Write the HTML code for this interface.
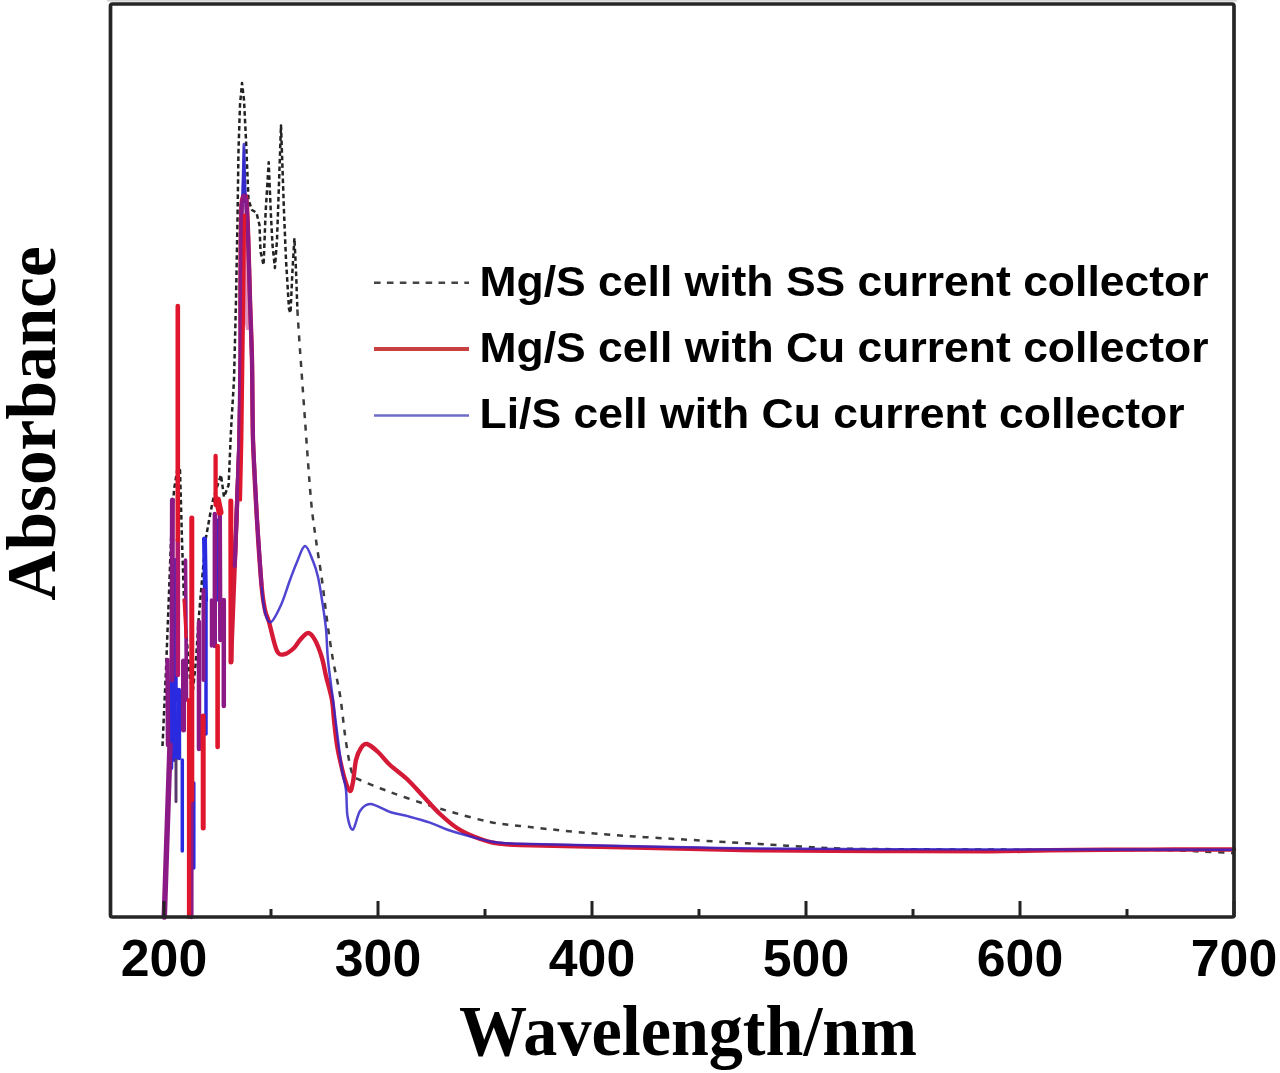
<!DOCTYPE html>
<html><head><meta charset="utf-8"><title>Absorbance vs Wavelength</title>
<style>
html,body{margin:0;padding:0;background:#fff;width:1280px;height:1073px;overflow:hidden}
svg{display:block}
</style></head>
<body>
<svg width="1280" height="1073" viewBox="0 0 1280 1073">
<rect width="1280" height="1073" fill="#fff"/>
<rect x="107" y="0" width="1130" height="1.6" fill="#d4d4d4"/>
<g fill="none" stroke-linejoin="round" stroke-linecap="round">
<path d="M297.4,310 C297.8,316.7 298.7,331.7 300,350 C301.3,368.3 303.2,395.0 305,420 C306.8,445.0 309.2,480.0 311,500 C312.8,520.0 314.2,526.7 316,540 C317.8,553.3 320.2,566.7 322,580 C323.8,593.3 325.2,606.7 327,620 C328.8,633.3 330.8,647.5 333,660 C335.2,672.5 338.0,682.5 340,695 C342.0,707.5 343.5,724.2 345,735 C346.5,745.8 347.7,753.3 349,760 C350.3,766.7 351.2,771.7 353,775 C354.8,778.3 353.8,777.2 360,780 C366.2,782.8 379.2,788.0 390,792 C400.8,796.0 414.2,800.5 425,804 C435.8,807.5 444.2,810.0 455,813 C465.8,816.0 479.2,819.8 490,822 C500.8,824.2 501.7,824.0 520,826 C538.3,828.0 570.0,831.6 600,834 C630.0,836.4 673.3,838.8 700,840.5 C726.7,842.2 743.3,843.0 760,844 C776.7,845.0 786.7,845.8 800,846.5 C813.3,847.2 823.3,848.0 840,848.5 C856.7,849.0 873.3,849.0 900,849.2 C926.7,849.4 966.7,849.5 1000,849.6 C1033.3,849.7 1071.7,849.7 1100,849.8 C1128.3,849.9 1153.3,849.9 1170,850.2 C1186.7,850.5 1189.3,851.0 1200,851.5 C1210.7,852.0 1228.3,852.8 1234,853" stroke="#3c3c3c" stroke-width="2.5" stroke-dasharray="6 6.8" stroke-linecap="butt"/>
<polyline points="162.5,746 166,670 169,593 171,540 174,490 177.5,468 180,470 182,540 184,600 186.7,638 190,680 193,690 196,660 198.5,621 202,580 205.7,539 210,515 213,500 217,487 221,475 224,497 228.6,485 231,430 234,380 236,300 237.5,220 238.5,150 240,105 242,83 244,100 246,140 248.5,200 252,210 256.4,212.6 259.5,225 260.5,251.5 263.6,265 265.6,212.6 268.7,162.3 270.8,212.6 272.5,245 274.9,268 277,240 278,212 281,125.4 284,212 286,260 289,309 290.5,313 292.5,270 294.4,238.2 296,270 297.4,310" stroke="#222" stroke-width="2.5" stroke-dasharray="4.6 3" stroke-linecap="butt"/>
<polygon points="241,205 247,205 249.5,290 250.5,330 246,330 241,300" fill="#d878b0" opacity="0.8"/>
<polyline points="171.5,680 171,768" stroke="#2a2ae0" stroke-width="4.5"/><polyline points="178.8,690 179,758" stroke="#2a2ae0" stroke-width="4.5"/><polyline points="204.5,539 205.5,600" stroke="#2a2ae0" stroke-width="5.0"/><polyline points="206,600 206,734" stroke="#2a2ae0" stroke-width="3.5"/><polyline points="182.3,760 182.3,851" stroke="#2a2ae0" stroke-width="3.5"/><polyline points="193.8,783 193.8,868" stroke="#2a2ae0" stroke-width="3.5"/><polyline points="175.2,560 175.8,700" stroke="#2a2ae0" stroke-width="4.0"/><polyline points="217.3,520 217.3,600" stroke="#2a2ae0" stroke-width="3.0"/><polyline points="174.5,680 175,760" stroke="#2a2ae0" stroke-width="4.5"/><polyline points="176,760 176,801.5" stroke="#5a3a6a" stroke-width="3.0"/><polyline points="172.4,500 172,680" stroke="#8c1a86" stroke-width="5.0"/><polyline points="185.5,560 186.5,700" stroke="#8c1a86" stroke-width="3.6"/><polyline points="183.5,661 183.5,730" stroke="#8c1a86" stroke-width="5.0"/><polyline points="199,622 199,749" stroke="#8c1a86" stroke-width="4.5"/><polyline points="203.5,590 203.5,680" stroke="#8c1a86" stroke-width="4.0"/><polyline points="214.8,514 214.8,646" stroke="#8c1a86" stroke-width="4.4"/><polyline points="219.8,514 220.3,640" stroke="#8c1a86" stroke-width="4.4"/><polyline points="211.5,600 211.5,646" stroke="#8c1a86" stroke-width="3.5"/><polyline points="223.8,600 223.8,706" stroke="#8c1a86" stroke-width="4.5"/><polyline points="240.8,360 239.5,440 237,505 234.7,566" stroke="#8c1a86" stroke-width="4.2"/><polyline points="170,745 166.5,850 164.3,917" stroke="#8c1a86" stroke-width="5.5"/><polyline points="167.5,660 168,745" stroke="#8c1a86" stroke-width="4.5"/><polyline points="191.5,760 191.3,917" stroke="#8c1a86" stroke-width="4.5"/><polyline points="177.8,540 177.8,675" stroke="#b8186a" stroke-width="4.6"/><polyline points="189,700 189,917" stroke="#e0162c" stroke-width="4.2"/><polyline points="177.8,306 177.8,540" stroke="#e0162c" stroke-width="4.6"/><polyline points="191.8,518 191.8,800" stroke="#e0162c" stroke-width="5.0"/><polyline points="215.6,456 215.6,505" stroke="#e0162c" stroke-width="4.3"/><polyline points="217.5,500 220,512" stroke="#e0162c" stroke-width="7.0"/><polyline points="230.8,501 231,662" stroke="#e0162c" stroke-width="5.0"/><polyline points="217.6,646 217.6,747" stroke="#e0162c" stroke-width="4.6"/><polyline points="203.2,716 203.2,828" stroke="#e0162c" stroke-width="5.0"/><polyline points="184,600 186,637" stroke="#e0162c" stroke-width="3.0"/>
<polygon points="241,203 243.1,147 244.4,147 247,203" fill="#4038d8" opacity="0.9"/>
<path d="M231,662 C231.6,646.0 233.7,592.2 234.7,566 C235.7,539.8 236.2,526.0 237,505 C237.8,484.0 238.9,464.2 239.5,440 C240.1,415.8 240.6,383.3 240.8,360 C241.0,336.7 240.5,320.0 240.5,300 C240.5,280.0 240.6,255.8 240.8,240 C241.0,224.2 241.1,212.3 241.5,205 C241.9,197.7 242.7,196.8 243.5,196 C244.3,195.2 245.7,192.7 246.5,200 C247.3,207.3 247.7,223.3 248.3,240 C248.9,256.7 249.4,280.0 250,300 C250.6,320.0 251.5,336.7 252,360 C252.5,383.3 252.2,413.3 253,440 C253.8,466.7 255.6,495.8 257,520 C258.4,544.2 260.2,570.0 261.5,585 C262.8,600.0 263.8,603.8 265,610 C266.2,616.2 267.0,615.2 269,622 C271.0,628.8 274.3,645.7 277,651 C279.7,656.3 282.2,654.5 285,654 C287.8,653.5 291.5,650.3 294,648 C296.5,645.7 297.7,642.5 300,640 C302.3,637.5 305.5,633.0 308,633 C310.5,633.0 312.7,635.8 315,640 C317.3,644.2 320.2,652.0 322,658 C323.8,664.0 324.3,669.0 326,676 C327.7,683.0 330.7,692.7 332,700 C333.3,707.3 333.2,712.5 334,720 C334.8,727.5 336.0,738.3 337,745 C338.0,751.7 338.7,754.2 340,760 C341.3,765.8 343.3,774.8 345,780 C346.7,785.2 348.7,790.7 350,791 C351.3,791.3 352.0,787.2 353,782 C354.0,776.8 354.7,765.7 356,760 C357.3,754.3 359.2,750.7 361,748 C362.8,745.3 364.2,743.3 367,744 C369.8,744.7 374.2,748.5 378,752 C381.8,755.5 385.2,760.5 390,765 C394.8,769.5 401.5,773.8 407,779 C412.5,784.2 417.5,790.2 423,796 C428.5,801.8 434.3,808.7 440,814 C445.7,819.3 451.2,824.2 457,828 C462.8,831.8 468.7,834.5 475,837 C481.3,839.5 487.5,841.7 495,843 C502.5,844.3 502.5,844.4 520,845 C537.5,845.6 570.0,846.1 600,846.8 C630.0,847.5 673.3,848.4 700,849 C726.7,849.6 730.0,850.0 760,850.3 C790.0,850.6 841.7,850.8 880,851 C918.3,851.2 961.7,851.4 990,851.3 C1018.3,851.2 1023.3,850.5 1050,850.2 C1076.7,849.9 1119.3,849.7 1150,849.6 C1180.7,849.5 1220.0,849.5 1234,849.5" stroke="#d41a36" stroke-width="4.4"/>
<path d="M234.7,566 C235.1,555.8 236.2,526.0 237,505 C237.8,484.0 238.9,464.2 239.5,440 C240.1,415.8 240.4,383.3 240.5,360 C240.6,336.7 240.2,320.0 240.3,300 C240.4,280.0 240.6,256.7 241,240 C241.4,223.3 242.1,215.7 242.5,200 C242.9,184.3 243.4,152.7 243.7,146 C244.0,139.3 244.2,151.0 244.5,160 C244.8,169.0 244.9,185.8 245.5,200 C246.1,214.2 247.2,228.3 248,245 C248.8,261.7 249.3,280.8 250,300 C250.7,319.2 251.5,336.7 252,360 C252.5,383.3 252.2,413.3 253,440 C253.8,466.7 255.6,495.8 257,520 C258.4,544.2 260.2,569.7 261.5,585 C262.8,600.3 263.4,605.8 265,612 C266.6,618.2 268.3,623.2 271,622 C273.7,620.8 277.8,612.0 281,605 C284.2,598.0 287.3,587.2 290,580 C292.7,572.8 294.5,567.7 297,562 C299.5,556.3 302.3,546.2 305,546 C307.7,545.8 310.8,555.8 313,561 C315.2,566.2 316.5,570.5 318,577 C319.5,583.5 320.7,591.3 322,600 C323.3,608.7 325.0,619.0 326,629 C327.0,639.0 326.8,648.2 328,660 C329.2,671.8 331.3,686.7 333,700 C334.7,713.3 336.5,728.3 338,740 C339.5,751.7 340.7,761.7 342,770 C343.3,778.3 345.1,782.3 346,790 C346.9,797.7 346.4,809.4 347.5,816 C348.6,822.6 350.7,830.5 352.8,829.7 C354.9,828.9 357.1,815.3 360,811 C362.9,806.7 365.5,803.8 370.5,804 C375.5,804.2 383.6,809.9 390,812 C396.4,814.1 401.9,814.6 408.6,816.4 C415.3,818.2 423.5,820.4 430,822.6 C436.5,824.8 441.0,827.5 447.5,829.7 C454.0,831.9 461.1,834.0 468.8,836 C476.5,838.0 485.1,840.7 493.6,842 C502.1,843.3 502.3,843.2 520,843.8 C537.7,844.4 570.0,845.0 600,845.6 C630.0,846.2 673.3,847.1 700,847.6 C726.7,848.1 730.0,848.3 760,848.6 C790.0,848.9 840.0,849.1 880,849.2 C920.0,849.3 941.0,849.3 1000,849.4 C1059.0,849.5 1195.0,849.7 1234,849.8" stroke="#3024c8" stroke-width="2.5" opacity="0.85"/>
<polyline points="234.7,566 237,505 239.3,440 240.3,360 240.5,300 240.8,240 241.5,205 243.5,196" stroke="#8c1a86" stroke-width="4.0"/><polyline points="243.5,196 246.5,200 248.3,240 250,300 252,360 253,440 257,520 261.5,585" stroke="#8c1a86" stroke-width="4.0"/><polyline points="244.5,215 243.8,290 242.6,380 241.8,440 240.5,500" stroke="#e0162c" stroke-width="3.2"/>
</g>
<g stroke="#222" stroke-width="3" fill="none"><line x1="164" y1="917" x2="164" y2="901"/><line x1="378" y1="917" x2="378" y2="901"/><line x1="592" y1="917" x2="592" y2="901"/><line x1="806" y1="917" x2="806" y2="901"/><line x1="1020" y1="917" x2="1020" y2="901"/><line x1="1234" y1="917" x2="1234" y2="901"/><line x1="271" y1="917" x2="271" y2="909"/><line x1="485" y1="917" x2="485" y2="909"/><line x1="699" y1="917" x2="699" y2="909"/><line x1="913" y1="917" x2="913" y2="909"/><line x1="1127" y1="917" x2="1127" y2="909"/></g>
<rect x="110.5" y="4" width="1123.5" height="913" rx="2" fill="none" stroke="#262626" stroke-width="3.7"/>
<g font-family="'Liberation Sans', Arial, sans-serif" font-weight="bold" font-size="51.8" text-anchor="middle" fill="#000"><text x="164" y="976">200</text><text x="378" y="976">300</text><text x="592" y="976">400</text><text x="806" y="976">500</text><text x="1020" y="976">600</text><text x="1234" y="976">700</text></g>
<text x="459" y="1054.8" font-family="'Liberation Serif', 'Times New Roman', serif" font-weight="bold" font-size="71.5" fill="#000" textLength="458" lengthAdjust="spacingAndGlyphs">Wavelength/nm</text>
<text transform="translate(54.6,600.7) rotate(-90)" x="0" y="0" font-family="'Liberation Serif', 'Times New Roman', serif" font-weight="bold" font-size="69.5" fill="#000" textLength="354.5" lengthAdjust="spacingAndGlyphs">Absorbance</text>
<g font-family="'Liberation Sans', Arial, sans-serif" font-weight="bold" font-size="42" fill="#000">
<text x="479.5" y="295.6" textLength="729" lengthAdjust="spacingAndGlyphs">Mg/S cell with SS current collector</text>
<text x="479.5" y="362" textLength="729" lengthAdjust="spacingAndGlyphs">Mg/S cell with Cu current collector</text>
<text x="479.5" y="428.4" textLength="705" lengthAdjust="spacingAndGlyphs">Li/S cell with Cu current collector</text>
</g>
<line x1="374" y1="282.7" x2="469" y2="282.7" stroke="#444" stroke-width="2.4" stroke-dasharray="6.6 6.3"/>
<line x1="374" y1="349" x2="469" y2="349" stroke="#c8403f" stroke-width="4"/>
<line x1="374" y1="415.5" x2="469" y2="415.5" stroke="#6f6cc8" stroke-width="2.6"/>
</svg>
</body></html>
